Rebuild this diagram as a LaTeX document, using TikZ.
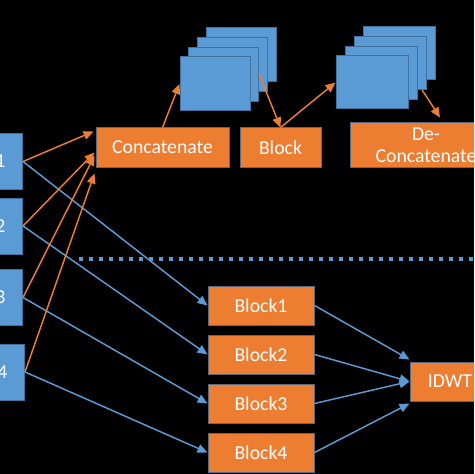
\documentclass[tikz,border=0pt]{standalone}
\usepackage{fontspec}
\setmainfont{Carlito}
\usetikzlibrary{arrows.meta, positioning, calc}
\definecolor{boxorange}{RGB}{237,125,49}
\definecolor{boxblue}{RGB}{91,155,213}
\definecolor{boxline}{RGB}{65,113,156}
\definecolor{orangeline}{RGB}{90,105,125}

\begin{document}
\begin{tikzpicture}[x=0.75pt, y=-0.75pt, >={Triangle[length=7.5pt, width=6.5pt]},
  box/.style={rectangle, draw=orangeline, line width=0.75pt, fill=#1, text=white, minimum height=29.25pt, align=center, inner sep=0pt, font=\fontsize{14.8}{16.5}\selectfont},
  box/.default=boxorange,
  inbox/.style={rectangle, draw=boxline, line width=0.75pt, fill=boxblue, text=white, minimum height=42pt, text width=36pt, align=right, inner xsep=12.75pt, anchor=east, font=\fontsize{14.8}{16.5}\selectfont},
  sheet/.style={rectangle, draw=boxline, line width=0.75pt, fill=boxblue, minimum width=52.5pt, minimum height=40.5pt, inner sep=0pt},
  orangearrow/.style={->, color=boxorange, line width=1.1pt},
  bluearrow/.style={->, color=boxblue, line width=1.1pt}]
  \useasboundingbox (0,0) rectangle (474,474);
  \fill[black] (0,0) rectangle (474,474);
  \clip (0,0) rectangle (474,474);

  % inputs on the left
  \node[inbox] (in1) at (23,161.5) {1};
  \node[inbox] (in2) at (23,226) {2};
  \node[inbox] (in3) at (23,297.5) {3};
  \node[inbox] (in4) at (25,372) {4};

  % upper path
  \node[box, minimum width=99.75pt] (concat) at (162.5,147.5) {Concatenate};
  \node[box, minimum width=60.75pt] (block) at (280.5,147.5) {Block};
  \node[box, minimum width=114pt, minimum height=33pt] (deconcat) at (426,145) {De-\\Concatenate};
  \foreach \i in {3,2,1,0}
    \node[sheet] (sa\i) at (215+8.7*\i, 84-9.7*\i) {};
  \foreach \i in {3,2,1,0}
    \node[sheet, minimum width=54pt, minimum height=39.75pt] (sb\i) at (372+9*\i, 82.5-9.7*\i) {};

  % lower path
  \node[box, minimum width=79.5pt] (blk1) at (261,305.5) {Block1};
  \node[box, minimum width=79.5pt, below=6.75pt of blk1] (blk2) {Block2};
  \node[box, minimum width=79.5pt, below=6.75pt of blk2] (blk3) {Block3};
  \node[box, minimum width=79.5pt, below=6.75pt of blk3] (blk4) {Block4};
  \node[box, minimum width=60pt] (idwt) at (450,381.5) {IDWT};

  % separator
  \coordinate (sepl) at (79,259);
  \coordinate (sepr) at (474,259);
  \draw[boxblue, line width=3pt, dash pattern=on 3pt off 4.5pt] (sepl) -- (sepr);

  \draw[bluearrow] (in1.east) -- (blk1.west);
  \draw[bluearrow] (in2.east) -- (blk2.west);
  \draw[bluearrow] (in3.east) -- (blk3.west);
  \draw[bluearrow] (in4.east) -- (blk4.west);

  \draw[orangearrow] (in1.east) -- ($(concat.north west)+(-2,4)$);
  \draw[orangearrow] (in2.east) -- ($(concat.west)+(-1,5)$);
  \draw[orangearrow] (in3.east) -- ($(concat.west)+(-1,8)$);
  \draw[orangearrow] (in4.east) -- ($(concat.south west)+(-1,6)$);

  \draw[orangearrow] (concat.north) -- (sa0.west);
  \draw[orangearrow] (sa1.east) -- (block.north);
  \draw[orangearrow] (block.north) -- (sb0.west);
  \draw[orangearrow] (sb2.-40) -- ($(deconcat.north)+(14,-5)$);

  \draw[bluearrow] (blk1.east) -- ($(idwt.north west)+(0,-2)$);
  \draw[bluearrow] (blk2.east) -- (idwt.west);
  \draw[bluearrow] (blk3.east) -- (idwt.west);
  \draw[bluearrow] (blk4.east) -- ($(idwt.south west)+(0,2)$);
\end{tikzpicture}
\end{document}
